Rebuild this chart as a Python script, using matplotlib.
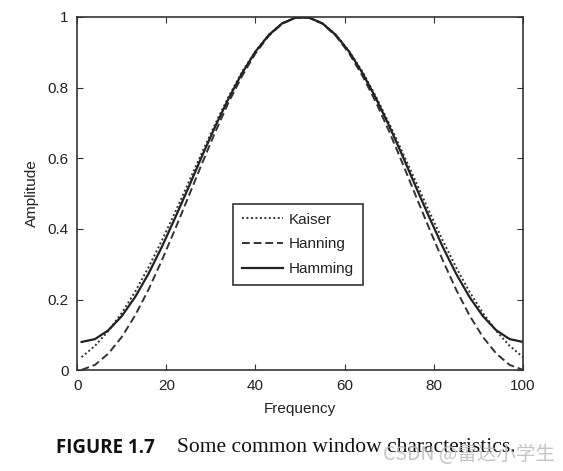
import matplotlib
matplotlib.use("Agg")
import matplotlib.pyplot as plt

# sample positions (window index) and amplitudes
freq = [1, 4, 7, 10, 13, 16, 19, 22, 25, 28, 31, 34, 37, 40, 43, 46, 49,
        52, 55, 58, 61, 64, 67, 70, 73, 76, 79, 82, 85, 88, 91, 94, 97, 100]

kaiser = [0.037, 0.069, 0.111, 0.162, 0.222, 0.291, 0.367, 0.448, 0.532,
          0.616, 0.698, 0.775, 0.845, 0.903, 0.950, 0.982, 0.998,
          0.998, 0.982, 0.950, 0.903, 0.845, 0.775, 0.698, 0.616, 0.532,
          0.448, 0.367, 0.291, 0.222, 0.162, 0.111, 0.069, 0.037]

hanning = [0.001, 0.015, 0.047, 0.094, 0.155, 0.228, 0.311, 0.400, 0.492,
           0.585, 0.675, 0.759, 0.833, 0.897, 0.947, 0.981, 0.998,
           0.998, 0.981, 0.947, 0.897, 0.833, 0.759, 0.675, 0.585, 0.492,
           0.400, 0.311, 0.228, 0.155, 0.094, 0.047, 0.015, 0.001]

hamming = [0.080, 0.088, 0.113, 0.153, 0.207, 0.273, 0.349, 0.432, 0.518,
           0.606, 0.691, 0.770, 0.841, 0.902, 0.949, 0.982, 0.998,
           0.998, 0.982, 0.949, 0.902, 0.841, 0.770, 0.691, 0.606, 0.518,
           0.432, 0.349, 0.273, 0.207, 0.153, 0.113, 0.088, 0.080]

plt.rcParams['font.family'] = ['Liberation Sans', 'DejaVu Sans']

fig = plt.figure(figsize=(5.63, 4.71), dpi=100)
ax = fig.add_axes([0.137, 0.214, 0.792, 0.750])

ax.plot(freq, kaiser, color='#333333', linestyle=(0, (1, 1.3)), linewidth=1.4, label='Kaiser')
ax.plot(freq, hanning, color='#333333', linestyle=(0, (4, 2)), linewidth=1.4, label='Hanning')
ax.plot(freq, hamming, color='#222222', linestyle='-', linewidth=1.6, label='Hamming')

ax.set_xlim(0, 100)
ax.set_ylim(0, 1)
ax.set_xticks([0, 20, 40, 60, 80, 100])
ax.set_yticks([0, 0.2, 0.4, 0.6, 0.8, 1])
ax.set_yticklabels(['0', '0.2', '0.4', '0.6', '0.8', '1'])
ax.tick_params(direction='in', top=True, right=True, labelsize=11, length=4,
               pad=6, color='#333333', labelcolor='#222222')
for s in ax.spines.values():
    s.set_linewidth(1.2)
    s.set_color('#333333')

ax.set_xlabel('Frequency', fontsize=11, labelpad=7, color='#222222')
ax.set_ylabel('Amplitude', fontsize=11, labelpad=6, color='#222222')

leg = ax.legend(loc='center', bbox_to_anchor=(0.495, 0.356), fontsize=11,
                fancybox=False, framealpha=1, edgecolor='#333333',
                handlelength=2.7, handletextpad=0.35, labelspacing=0.7,
                borderpad=0.6)
leg.get_frame().set_linewidth(1.2)
for t in leg.get_texts():
    t.set_color('#222222')

fig.text(0.099, 0.049, 'FIGURE 1.7', fontsize=13.5, fontweight='bold',
         family=['Open Sans', 'DejaVu Sans'], color='#111111', va='center')
fig.text(0.314, 0.049, 'Some common window characteristics.', fontsize=15.5,
         family=['Liberation Serif', 'DejaVu Serif'], color='#111111', va='center')
fig.text(0.985, 0.036, 'CSDN @雷达小学生', fontsize=14, ha='right', va='center',
         family=['Noto Sans CJK SC', 'DejaVu Sans'], color='#bbbbbb', alpha=0.85)

fig.savefig('out.png', dpi=100)
